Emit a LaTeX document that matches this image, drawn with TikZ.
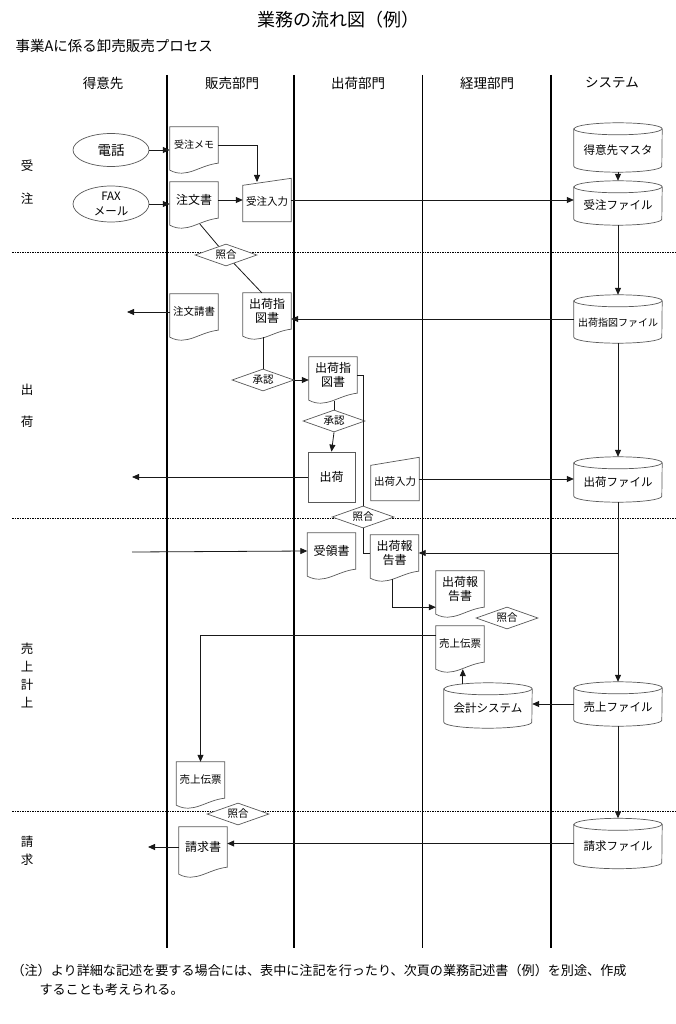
\documentclass[tikz,border=0pt]{standalone}
\usepackage{fontspec}
\setmainfont{Noto Sans CJK JP}
\usetikzlibrary{shapes.geometric,arrows.meta,calc}
\pgfdeclarelayer{back}\pgfdeclarelayer{shp}
\pgfsetlayers{back,shp,main}
\newcommand\docout[1]{\draw[shapeline] (#1.north west) -- (#1.north east) -- (#1.south east) .. controls ($(#1.south east)+(-19,2)$) and ($(#1.south west)+(17,16)$) .. ($(#1.south west)+(0,7)$) -- cycle;}
\newcommand\cylout[1]{\draw[shapeline] ($(#1.north west)+(0,6)$) -- ($(#1.south west)+(0,-6)$) arc[start angle=180,end angle=360,x radius=44pt,y radius=6pt] -- ($(#1.north east)+(0,6)$) arc[start angle=0,end angle=180,x radius=44pt,y radius=6pt] -- cycle;
\draw[shapeline,fill=none] ($(#1.north west)+(0,6)$) arc[start angle=180,end angle=360,x radius=44pt,y radius=6pt];}
\newcommand\manin[2]{\draw[shapeline] (#1.south west) -- ($(#1.north west)+(0,#2)$) -- (#1.north east) -- (#1.south east) -- cycle;}
\begin{document}
\begin{tikzpicture}[x=1pt,y=-1pt,font=\fontsize{11.5}{13.5}\selectfont,
 shapeline/.style={draw=black!65,line width=0.7pt,fill=white},
 conn/.style={line width=0.8pt,draw=black!90},
 arr/.style={conn,-{Triangle[length=7pt,width=6pt]}},
 docbox/.style={rectangle,minimum width=48pt,minimum height=36pt,inner sep=1pt,align=center},
 inbox/.style={rectangle,minimum width=48pt,minimum height=43pt,inner sep=1pt,text height=14pt,text depth=2pt},
 cylbox/.style={rectangle,minimum width=88pt,inner sep=1pt,text height=16pt,text depth=2pt},
 dia/.style={diamond,draw=black!65,line width=0.7pt,fill=white,minimum width=62pt,minimum height=22pt,inner sep=0.5pt,shape aspect=2.8,font=\fontsize{10.5}{12}\selectfont},
 oval/.style={ellipse,draw=black!65,line width=0.7pt,fill=white,minimum width=76pt,minimum height=33pt,inner sep=0pt,align=center},
 lane/.style={line width=1.5pt},
 dashsep/.style={line width=0.6pt,dash pattern=on 1.5pt off 1pt},
 hdr/.style={font=\fontsize{13.5}{15}\selectfont},
 phase/.style={font=\fontsize{12.5}{18}\selectfont,align=center}]
\useasboundingbox (0,0) rectangle (676,1024);

% titles
\node (title) at (338,20) {\fontsize{18}{20}\selectfont 業務の流れ図（例）};
\node[anchor=west] (sub) at (12,46) {\fontsize{14.5}{16}\selectfont 事業Aに係る卸売販売プロセス};
\node[hdr] (h1) at (103,83) {得意先};
\node[hdr] (h2) at (232,83) {販売部門};
\node[hdr] (h3) at (358,83) {出荷部門};
\node[hdr] (h4) at (487,83) {経理部門};
\node[hdr] (h5) at (612,83) {システム};

% phase labels
\node[phase] (p1a) at (27,166) {受};
\node[phase] (p1b) at (27,199) {注};
\node[phase] (p2a) at (27,390) {出};
\node[phase] (p2b) at (27,422) {荷};
\node[phase] (p3) at (27,675) {売\\上\\計\\上};
\node[phase] (p4) at (27,851) {請\\求};

\begin{pgfonlayer}{back}
\draw[lane] (167,75) -- (167,948);
\draw[lane] (294,75) -- (294,948);
\draw[line width=1pt] (422,75) -- (422,948);
\draw[lane] (551,75) -- (551,948);
\draw[dashsep] (12,252) -- (676,252);
\draw[dashsep] (12,518) -- (676,518);
\draw[dashsep] (12,811) -- (676,811);
\end{pgfonlayer}

% nodes
\node[oval,font=\fontsize{13.5}{15}\selectfont] (tel) at (111,150) {電話};
\node[oval,minimum height=36pt,font=\fontsize{11.5}{15}\selectfont] (fax) at (111,204) {FAX\\メール};
\node[docbox,font=\fontsize{10}{11}\selectfont] (memo) at (194,145) {受注メモ};
\node[docbox,font=\fontsize{12}{14}\selectfont] (chumon) at (194,200) {注文書};
\node[inbox,font=\fontsize{10.5}{12}\selectfont] (juchuin) at (267,200) {受注入力};
\node[dia] (sk1) at (226,255) {照合};
\node[docbox,font=\fontsize{10.5}{12}\selectfont] (ukesho) at (194,312) {注文請書};
\node[docbox,font=\fontsize{12}{14.5}\selectfont] (shiji1) at (267,311) {出荷指\\図書};
\node[dia] (sn1) at (263,380) {承認};
\node[docbox,font=\fontsize{12}{14.5}\selectfont] (shiji2) at (333,375) {出荷指\\図書};
\node[dia] (sn2) at (334,421) {承認};
\node[rectangle,draw=black!65,line width=0.7pt,fill=white,minimum width=47pt,minimum height=50pt,font=\fontsize{12}{14}\selectfont] (shukka) at (331.5,477) {出荷};
\node[inbox,font=\fontsize{10.5}{12}\selectfont] (shukkain) at (395,479) {出荷入力};
\node[dia] (sk2) at (363,517) {照合};
\node[docbox,font=\fontsize{12}{14}\selectfont] (juryo) at (331.5,551) {受領書};
\node[docbox,font=\fontsize{12}{14.5}\selectfont] (hok1) at (394.5,553) {出荷報\\告書};
\node[docbox,font=\fontsize{12}{14.5}\selectfont] (hok2) at (460,589) {出荷報\\告書};
\node[dia] (sk3) at (507,618) {照合};
\node[docbox,font=\fontsize{10.5}{12}\selectfont] (den1) at (460,644) {売上伝票};
\node[cylbox,minimum height=45pt] (kaikei) at (488,705.5) {会計システム};
\node[docbox,font=\fontsize{10.5}{12}\selectfont] (den2) at (200.5,780) {売上伝票};
\node[dia] (sk4) at (238,814) {照合};
\node[docbox,minimum height=40pt,font=\fontsize{12}{14}\selectfont] (seikyu) at (203,847) {請求書};
\node[cylbox,minimum height=49pt] (master) at (618,147.5) {得意先マスタ};
\node[cylbox,minimum height=44pt] (jfile) at (618,203) {受注ファイル};
\node[cylbox,minimum height=48pt,font=\fontsize{10}{11}\selectfont] (sfile) at (618,319) {出荷指図ファイル};
\node[cylbox,minimum height=45pt] (kfile) at (618,479.5) {出荷ファイル};
\node[cylbox,minimum height=44pt] (ufile) at (618,704) {売上ファイル};
\node[cylbox,minimum height=50pt] (sefile) at (618,843.5) {請求ファイル};

\coordinate (mtop) at (257,182);
\coordinate (out1) at (127,312);
\coordinate (out2) at (132,477);
\coordinate (in1) at (132,552);
\coordinate (out3) at (148,847);

\begin{pgfonlayer}{shp}
\foreach \n in {memo,chumon,ukesho,shiji1,shiji2,juryo,hok1,hok2,den1,den2,seikyu} {\docout{\n}}
\foreach \n in {master,jfile,sfile,kfile,ufile,kaikei,sefile} {\cylout{\n}}
\manin{juchuin}{7}
\manin{shukkain}{8}
\end{pgfonlayer}

% connectors
\draw[arr] (tel.east) -- (tel.east -| memo.west);
\draw[arr] (fax.east) -- (fax.east -| chumon.west);
\draw[arr] (memo.east) -| (mtop);
\draw[arr] (chumon.east) -- (chumon.east -| juchuin.west);
\draw[arr] (juchuin.east) -- (juchuin.east -| jfile.west);
\draw[arr] (master.south) -- (jfile.north);
\draw[conn] ($(chumon.south)+(6,6)$) -- (sk1);
\draw[conn] (sk1) -- ($(shiji1.north west)+(19,0)$);
\draw[arr] (jfile.south) -- (sfile.north);
\draw[arr] (sfile.west) -- (sfile.west -| shiji1.east);
\draw[arr] (ukesho.west) -- (out1);
\draw[conn] ($(sn1.north |- shiji1.south)+(0,8)$) -- (sn1.north);
\draw[arr] (sn1.east) -- (sn1.east -| shiji2.west);
\draw[conn] (shiji2.east) -| (sk2.north);
\draw[conn] (sk2.south) |- (hok1.west);
\draw[conn] ($(sn2.north |- shiji2.south)+(0,8)$) -- (sn2.north);
\draw[arr] (sn2.south) -- (shukka.north);
\draw[arr] (shukka.west) -- (out2);
\draw[arr] (shukkain.east) -- (shukkain.east -| kfile.west);
\draw[arr] (sfile.south) -- (kfile.north);
\draw[arr] (kfile.south) -- (ufile.north);
\draw[arr] (kfile.south |- hok1.east) -- (hok1.east);
\draw[arr] (in1) -- (juryo.west);
\draw[arr] ($(hok1.south)+(-2,8)$) |- (hok2.south west);
\draw[arr] ($(kaikei.north west)+(19,1)$) -- ($(den1.south west)+(27,7)$);
\draw[arr] (ufile.west) -- (ufile.west -| kaikei.east);
\draw[arr] ($(den1.west)+(0,-9)$) -| (den2.north);
\draw[arr] (ufile.south) -- (sefile.north);
\draw[arr] (sefile.west) -- (sefile.west -| seikyu.east);
\draw[arr] (seikyu.west) -- (out3);

% footnote
\node[anchor=west,font=\fontsize{13.1}{14}\selectfont] (note1) at (8,971) {（注）より詳細な記述を要する場合には、表中に注記を行ったり、次頁の業務記述書（例）を別途、作成};
\node[anchor=west,font=\fontsize{13.1}{14}\selectfont] (note2) at (36,990) {することも考えられる。};
\end{tikzpicture}
\end{document}
